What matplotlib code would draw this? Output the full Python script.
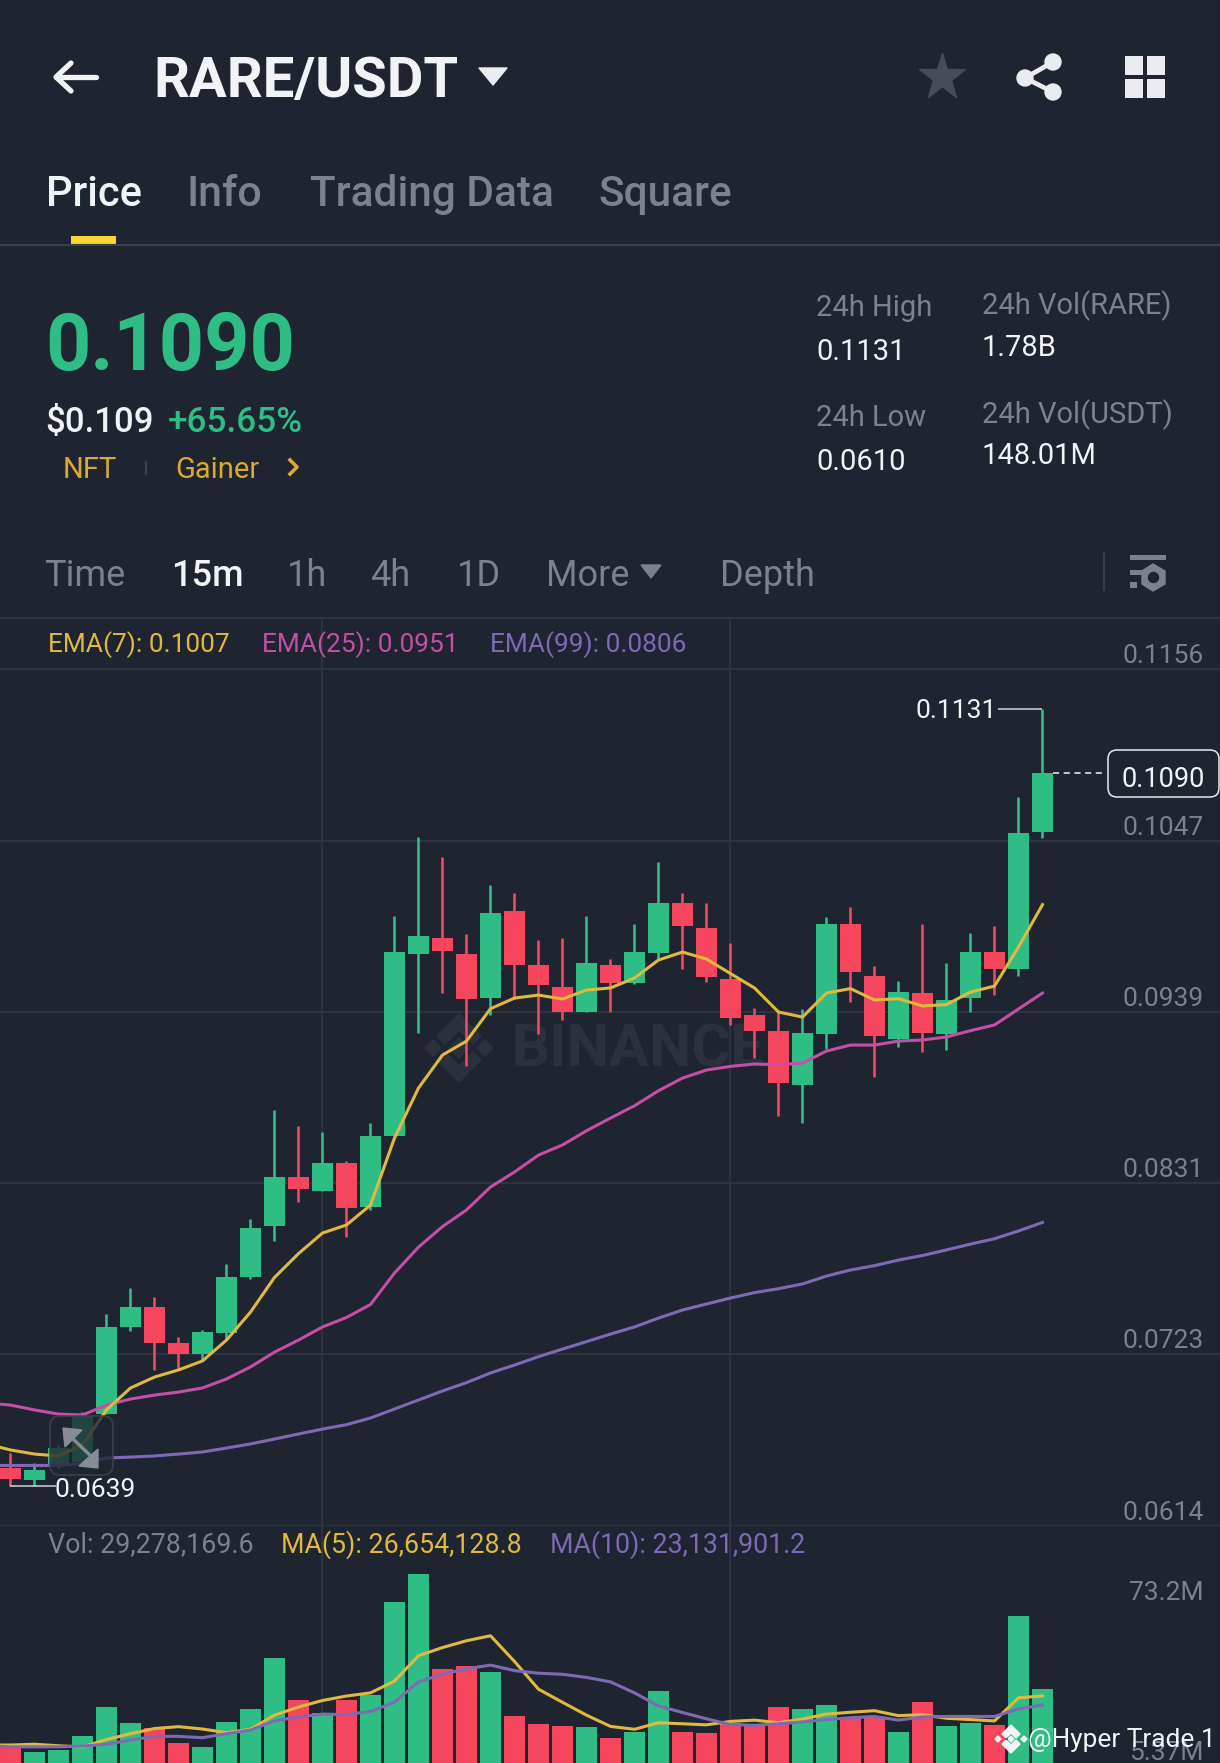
import matplotlib
matplotlib.use("Agg")
import matplotlib.pyplot as plt
from matplotlib.patches import Rectangle, FancyBboxPatch, Polygon, Circle

# ---------- data ----------
price_ticks = [0.1156, 0.1047, 0.0939, 0.0831, 0.0723, 0.0614]
price_tick_labels = ["0.1156", "0.1047", "0.0939", "0.0831", "0.0723", "0.0614"]
highs = [.06602,.06538,.06652,.06861,.07481,.07645,.07588,.07335,.07380,.07797,.08079,
         .08771,.08670,.08629,.08448,.08689,.10000,.10498,.10371,.09884,.10194,.10143,
         .09849,.09859,.10000,.09726,.09950,.10339,.10143,.10080,.09830,.09419,.09391,
         .09410,.09992,.10052,.09682,.09589,.09950,.09701,.09890,.09935,.10750,.11310]
lows = [.06390,.06393,.06507,.06526,.06848,.07376,.07129,.07129,.07193,.07316,.07705,
        .07942,.08192,.08259,.07971,.08139,.08607,.09261,.09511,.09051,.09372,.09475,
        .09252,.09340,.09391,.09391,.09570,.09726,.09663,.09580,.09311,.09103,.08733,
        .08692,.09159,.09454,.08980,.09169,.09138,.09150,.09391,.09498,.09618,.10491]
opens = [.06507,.06431,.06520,.06542,.06848,.07399,.07525,.07297,.07228,.07361,.07717,
         .08039,.08347,.08259,.08436,.08157,.08607,.09760,.09859,.09760,.09482,.10029,
         .09691,.09549,.09391,.09691,.09577,.09764,.10080,.09922,.09599,.09372,.09271,
         .08929,.09252,.09950,.09618,.09223,.09511,.09252,.09482,.09770,.09663,.10529]
closes = [.06440,.06494,.06636,.06836,.07399,.07525,.07297,.07228,.07367,.07717,.08027,
          .08347,.08271,.08436,.08151,.08607,.09770,.09871,.09778,.09473,.10017,.09691,
          .09561,.09391,.09701,.09577,.09770,.10080,.09935,.09612,.09353,.09272,.08942,
          .09258,.09950,.09641,.09239,.09517,.09261,.09469,.09770,.09663,.10523,.10900]
ema7 = [.06659,.06621,.06595,.06583,.06652,.06874,.07013,.07082,.07127,.07184,.07316,.07493,
        .07712,.07863,.07993,.08044,.08170,.08594,.08910,.09119,.09207,.09412,.09479,.09498,
        .09473,.09530,.09543,.09606,.09720,.09770,.09726,.09634,.09543,.09391,.09359,.09511,
        .09539,.09467,.09475,.09429,.09438,.09517,.09555,.09802,.10070]
ema25 = [.06918,.06905,.06874,.06848,.06842,.06905,.06943,.06968,.06987,.07013,.07070,.07146,
         .07240,.07316,.07399,.07459,.07541,.07740,.07904,.08034,.08139,.08284,.08379,.08486,
         .08550,.08640,.08720,.08798,.08893,.08973,.09024,.09047,.09062,.09058,.09068,.09144,
         .09182,.09182,.09207,.09214,.09233,.09273,.09309,.09410,.09511]
ema99 = [.06523,.06523,.06523,.06523,.06535,.06570,.06576,.06583,.06595,.06608,.06633,.06659,
         .06690,.06722,.06753,.06781,.06823,.06880,.06937,.06994,.07047,.07108,.07158,.07211,
         .07259,.07306,.07354,.07399,.07455,.07506,.07544,.07582,.07616,.07641,.07671,.07721,
         .07759,.07787,.07822,.07851,.07886,.07923,.07957,.08006,.08060]
volumes = [7.2,5.35,6.06,11.3,22.4,16.4,14.3,8.8,7.1,16.7,21.5,41.3,25.2,20.0,25.1,26.8,62.3,
           73.2,36.9,37.9,35.9,18.8,16.0,15.1,14.6,10.7,12.7,28.6,13.0,12.6,16.4,16.1,22.4,
           21.5,23.2,18.5,18.5,13.0,24.4,15.1,16.3,15.7,57.0,29.28]
ma5 = [7.9,7.9,8.2,7.6,7.2,10.0,12.2,14.2,14.9,14.0,12.6,13.9,19.3,22.4,24.9,26.6,27.8,32.3,
       42.0,45.1,47.7,49.6,39.8,29.2,24.2,19.3,15.0,13.9,16.4,16.0,15.6,16.9,17.4,16.4,17.8,
       19.7,20.4,21.0,19.1,19.5,18.1,17.6,17.1,25.9,26.65]
ma10 = [7.6,7.2,7.2,7.2,7.5,8.2,9.8,11.2,11.2,10.7,12.2,13.6,17.1,18.6,19.7,19.5,20.7,24.2,
        32.0,34.9,37.0,38.4,36.3,35.3,34.9,33.7,32.0,27.8,22.8,20.3,17.9,15.7,15.4,16.0,16.7,
        17.6,18.3,18.8,17.4,18.6,18.8,18.8,18.8,21.7,23.13]
time_grid = [13, 30]

# ---------- style ----------
W, H = 1220, 1763
BG = "#1e2530"; GREEN = "#2ebd85"; RED = "#f6465d"; GRID = "#2f3641"
YEL = "#e0b93e"; PINK = "#c54ea6"; PUR = "#7f69b5"; GREY = "#7c828c"; WHITE = "#f2f3f5"
FONT = "Roboto"
LW = 2.2
plt.rcParams["font.family"] = [FONT, "DejaVu Sans"]

fig = plt.figure(figsize=(W/100, H/100), dpi=100, facecolor=BG)

def px_axes(z):
    a = fig.add_axes([0, 0, 1, 1], zorder=z, facecolor="none")
    a.set_xlim(0, W); a.set_ylim(H, 0); a.axis("off")
    return a

under = px_axes(0)
over = px_axes(5)

def band(top, bottom):
    return [0, 1-bottom/H, 1, (bottom-top)/H]

XL = (-0.4375, 50.396)
ax = fig.add_axes(band(618, 1526), zorder=1, facecolor="none")
ax.set_xlim(*XL); ax.set_ylim(0.0614, 0.11883)
vx = fig.add_axes(band(1526, 1763), zorder=1, facecolor="none")
vx.set_xlim(*XL); vx.set_ylim(1.03, 91.5)
for a in (ax, vx):
    a.axis("off")
    for t in time_grid:
        a.axvline(t, color=GRID, lw=1.3, zorder=1)
idx = list(range(len(opens)))
for v in price_ticks:
    ax.axhline(v, color=GRID, lw=1.3, zorder=1)
cols = [GREEN if c >= o else RED for o, c in zip(opens, closes)]
ax.vlines(idx, lows, highs, colors=cols, lw=1.9, zorder=2)
ax.bar(idx, [abs(c-o) for o, c in zip(opens, closes)], bottom=[min(o, c) for o, c in zip(opens, closes)],
       width=0.875, color=cols, zorder=3)
lx = [-1] + idx
ax.plot(lx, ema99, color=PUR, lw=LW, zorder=4)
ax.plot(lx, ema25, color=PINK, lw=LW, zorder=4)
ax.plot(lx, ema7, color=YEL, lw=LW, zorder=5)
vx.bar(idx, volumes, width=0.875, color=cols, zorder=3)
vx.plot(lx, ma5, color=YEL, lw=LW, zorder=4)
vx.plot(lx, ma10, color=PUR, lw=LW, zorder=5)

for v, s in zip(price_ticks, price_tick_labels):
    ax.annotate(s, xy=(1, v), xycoords=ax.get_yaxis_transform(), xytext=(-16, 13), textcoords="offset pixels",
                ha="right", va="center", color=GREY, fontsize=19)

# last price / extremes
ax.hlines(closes[-1], 43.45, 45.65, color=WHITE, lw=1.1, linestyles=(0, (4, 3)), zorder=2)
ax.hlines(highs[-1], 41.15, 43, color="#cfd2d6", lw=1.1, zorder=2)
ax.hlines(lows[0], 0, 1.9, color="#cfd2d6", lw=1.1, zorder=2)
ax.annotate("0.1131", xy=(41.1, highs[-1]), xytext=(0, -2), textcoords="offset pixels", ha="right", va="center",
            color=WHITE, fontsize=19)
ax.annotate("0.0639", xy=(1.85, lows[0]), xytext=(0, -4), textcoords="offset pixels", ha="left", va="center",
            color=WHITE, fontsize=19)

def T(a, x, y, s, size, color=WHITE, weight="normal", ha="left"):
    return a.text(x, y+2.5, s, fontsize=size, color=color, fontweight=weight, ha=ha, va="center")

# watermark under candles
WM = "#2a303c"
under.add_patch(Polygon([(459,1014),(481,1036),(473,1044),(459,1030),(445,1044),(437,1036)], color=WM))
under.add_patch(Polygon([(459,1082),(481,1060),(473,1052),(459,1066),(445,1052),(437,1060)], color=WM))
under.add_patch(Polygon([(459,1038),(469,1048),(459,1058),(449,1048)], color=WM))
under.add_patch(Polygon([(425,1048),(433,1040),(441,1048),(433,1056)], color=WM))
under.add_patch(Polygon([(477,1048),(485,1040),(493,1048),(485,1056)], color=WM))
T(under, 511, 1048, "BINANCE", 43, WM, "bold")

# ---------- header ----------
o = over
o.plot([56, 96], [77, 77], color=WHITE, lw=3.8, solid_capstyle="round")
o.plot([71, 56, 71], [63, 77, 91], color=WHITE, lw=3.8, solid_capstyle="round", solid_joinstyle="round")
T(o, 153, 80, "RARE/USDT", 40.5, WHITE, "bold")
o.add_patch(Polygon([(479, 68), (507, 68), (493, 85)], color="#eaecef", joinstyle="round"))
o.plot([942], [77], marker="*", ms=35, color="#474d57", mec="#474d57")
o.plot([1053, 1025, 1053], [62, 78, 92], color="#eaecef", lw=3.4)
for cx, cy in [(1053, 62), (1025, 78), (1053, 92)]:
    o.add_patch(Circle((cx, cy), 8, color="#eaecef"))
for x0, y0 in [(1125, 56), (1147, 56), (1125, 79), (1147, 79)]:
    o.add_patch(Rectangle((x0, y0), 18, 19, color="#eaecef", lw=0))

T(o, 46, 192, "Price", 30, WHITE, "medium")
T(o, 187, 192, "Info", 31, GREY, "medium")
T(o, 310, 192, "Trading Data", 30.5, GREY, "medium")
T(o, 598, 192, "Square", 30.5, GREY, "medium")
o.add_patch(Rectangle((71, 236), 45, 8, color="#fcd535", lw=0))
o.plot([0, W], [245, 245], color="#39404b", lw=1.6)

T(o, 45, 346, "0.1090", 57, GREEN, "bold")
T(o, 45, 420.5, "$0.109", 25, WHITE, "medium")
T(o, 168, 420.5, "+65.65%", 25.3, GREEN, "medium")
T(o, 63, 468, "NFT", 21, "#dba92f")
o.plot([146, 146], [462, 474], color="#474d57", lw=1.2)
T(o, 175, 468, "Gainer", 21, "#dba92f")
o.plot([290, 297, 290], [460, 467, 474], color="#dba92f", lw=2.6)

for x, y, s, c in [(816, 305, "24h High", GREY), (816, 350, "0.1131", WHITE), (816, 415, "24h Low", GREY),
                   (816, 459, "0.0610", WHITE), (982, 303, "24h Vol(RARE)", GREY), (982, 345, "1.78B", WHITE),
                   (982, 412, "24h Vol(USDT)", GREY), (982, 454, "148.01M", WHITE)]:
    T(o, x, y, s, 21, c)

for x, s, c, w in [(44, "Time", GREY, "normal"), (171, "15m", WHITE, "medium"), (287, "1h", GREY, "normal"),
                   (370, "4h", GREY, "normal"), (457, "1D", GREY, "normal"), (546, "More", GREY, "normal"),
                   (720, "Depth", GREY, "normal")]:
    T(o, x, 574, s, 26, c, w)
o.add_patch(Polygon([(641, 565), (661, 565), (651, 578)], color=GREY))
o.plot([1104, 1104], [553, 590], color="#39404b", lw=1.3)
o.add_patch(Rectangle((1130, 555), 36, 5, color=GREY, lw=0))
o.add_patch(Rectangle((1130, 570), 12, 5, color=GREY, lw=0))
o.add_patch(Rectangle((1130, 582), 7, 6, color=GREY, lw=0))
o.add_patch(Polygon([(1153,564),(1165,571),(1165,584),(1153,591),(1142,584),(1142,571)], color=GREY))
o.add_patch(Circle((1153.5, 577.5), 5, color=BG))

o.plot([0, W], [618, 618], color=GRID, lw=1.3)
T(o, 48, 642, "EMA(7): 0.1007", 18.9, YEL)
T(o, 262, 642, "EMA(25): 0.0951", 18.9, PINK)
T(o, 490, 642, "EMA(99): 0.0806", 18.9, PUR)
T(o, 48, 1542, "Vol: 29,278,169.6", 19.4, GREY)
T(o, 281, 1542, "MA(5): 26,654,128.8", 19.3, YEL)
T(o, 550, 1542, "MA(10): 23,131,901.2", 19.3, PUR)
T(o, 1204, 1591, "73.2M", 19, GREY, ha="right")
T(o, 1204, 1750, "5.37M", 19, GREY, ha="right")

# current price box
o.add_patch(FancyBboxPatch((1117, 759), 93, 29, boxstyle="round,pad=9", fc=BG, ec="#e8eaec", lw=1.1))
T(o, 1163, 777, "0.1090", 19.5, WHITE, ha="center")

# expand icon
o.add_patch(FancyBboxPatch((60, 1426), 43, 39, boxstyle="round,pad=10", fc=BG, ec="#3d444f", lw=1.4, alpha=0.78))
ic = "#868c96"
o.plot([70, 96], [1436, 1461], color=ic, lw=2.4)
o.add_patch(Polygon([(63, 1428), (82, 1430), (65, 1447)], color=ic))
o.add_patch(Polygon([(98, 1468), (79, 1466), (98, 1449)], color=ic))

# corner credit
cx, cy = 1011, 1739
o.add_patch(Polygon([(cx, cy-14),(cx+9, cy-5),(cx+5, cy-1),(cx, cy-6),(cx-5, cy-1),(cx-9, cy-5)], color=WHITE))
o.add_patch(Polygon([(cx, cy+14),(cx+9, cy+5),(cx+5, cy+1),(cx, cy+6),(cx-5, cy+1),(cx-9, cy+5)], color=WHITE))
o.add_patch(Polygon([(cx, cy-3),(cx+3, cy),(cx, cy+3),(cx-3, cy)], color=WHITE))
o.add_patch(Polygon([(cx-13, cy-3),(cx-10, cy),(cx-13, cy+3),(cx-16, cy)], color=WHITE))
o.add_patch(Polygon([(cx+13, cy-3),(cx+16, cy),(cx+13, cy+3),(cx+10, cy)], color=WHITE))
T(o, 1028, 1738, "@Hyper Trade 1", 18.9, WHITE)

fig.savefig("out.png", dpi=100, facecolor=BG)
